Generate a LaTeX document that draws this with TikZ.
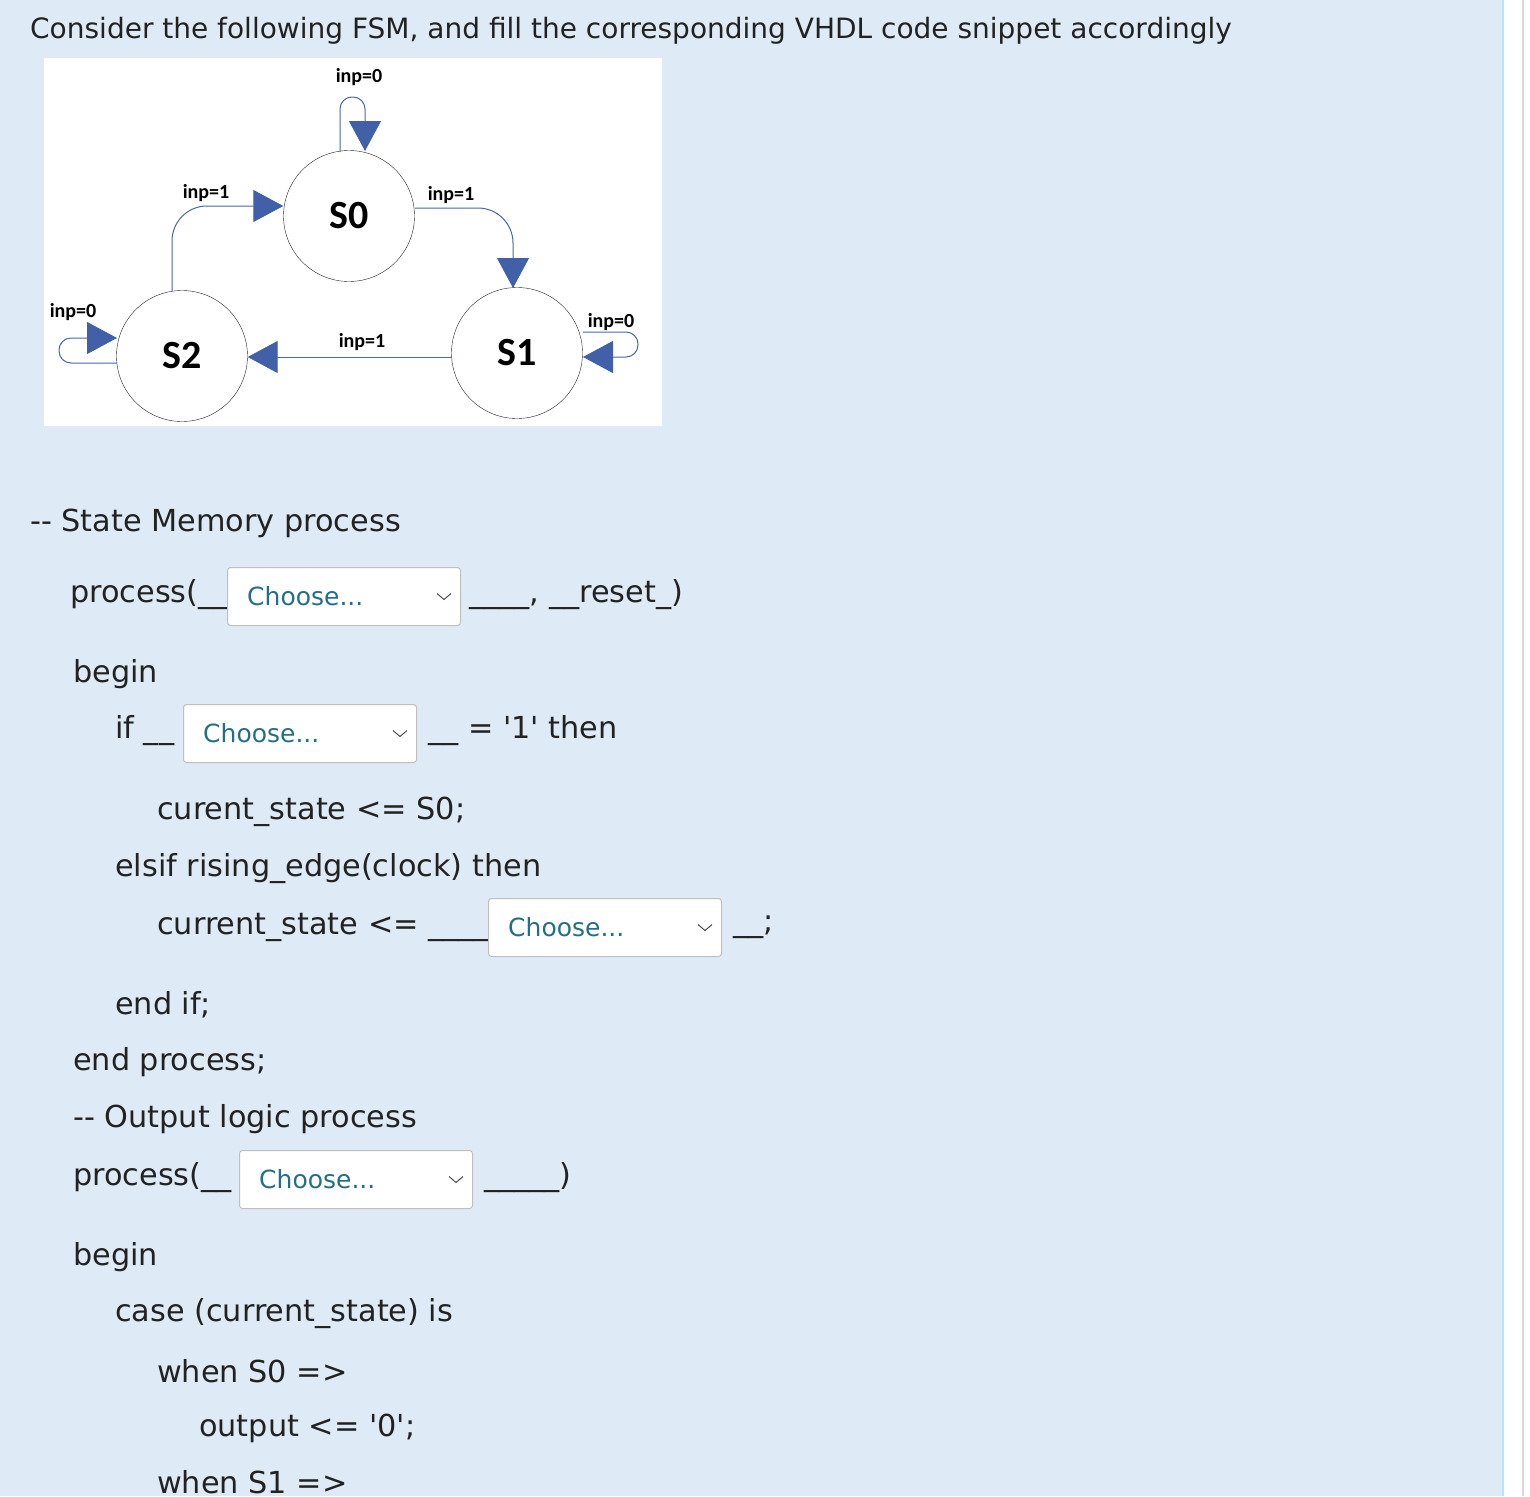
\documentclass[tikz,border=0pt]{standalone}
\usepackage{fontspec}
\setmainfont{DejaVu Sans}
\newfontfamily\diag{Carlito}
\usetikzlibrary{arrows.meta}
\definecolor{bgblue}{HTML}{DEEBF6}
\definecolor{edge}{HTML}{4A66AE}
\definecolor{tip}{HTML}{4160A8}
\definecolor{teal}{HTML}{246E86}
\definecolor{txt}{HTML}{222222}
\newcommand{\q}{\textquotesingle}
\tikzset{
  x=1pt,y=-1pt,
  st/.style={circle,draw=black!85,fill=white,minimum size=131pt,inner sep=0pt,font=\diag\bfseries\fontsize{40}{40}\selectfont},
  lbl/.style={font=\diag\bfseries\fontsize{20}{20}\selectfont,inner sep=0pt},
  tr/.style={draw=edge,line width=1pt,-{Triangle[length=30pt,width=32pt,fill=tip,color=tip]},rounded corners=22pt},
  code/.style={anchor=west,inner sep=0pt,text=txt,font=\fontsize{30.3}{31}\selectfont},
  dd/.style={draw=black!25,fill=white,rounded corners=3pt,line width=1pt,minimum width=233pt,minimum height=58pt,anchor=north west,inner sep=0pt},
  ch/.style={anchor=west,text=teal,font=\fontsize{25}{25}\selectfont,inner sep=0pt}
}
\newcommand{\dropdown}[3]{%
  \node[dd] (#1) at (#2,#3) {};
  \node[ch] at ([xshift=20pt]#1.west) {Choose...};
  \draw[black!70,line width=1pt] ([xshift=-24pt,yshift=3pt]#1.east) -- ([xshift=-17pt,yshift=-3pt]#1.east) -- ([xshift=-10pt,yshift=3pt]#1.east);
}
\begin{document}
\begin{tikzpicture}
\useasboundingbox (0,0) rectangle (1530,1496);
\fill[bgblue] (0,0) rectangle (1502,1496);
\fill[white] (1504,0) rectangle (1530,1496);
\draw[cyan!30!white,line width=2pt] (1503,0) -- (1503,1496);
\draw[black!15,line width=2pt] (1523,0) -- (1523,1496);
\node[anchor=west,inner sep=0pt,text=txt,font=\fontsize{28}{28}\selectfont] (title) at (30,31) {Consider the following FSM, and fill the corresponding VHDL code snippet accordingly};
% diagram
\fill[white] (44,58) rectangle (662,426);
\node[st] (S0) at (349,216) {S0};
\node[st] (S1) at (517,353) {S1};
\node[st] (S2) at (182,356) {S2};
\coordinate (a0) at (340,152);
\coordinate (b0) at (365,151);
\draw[tr,rounded corners=12pt] (a0) -- (340,97) -- (365,97) -- (b0);
\draw[tr,rounded corners=35pt] (172,291) -- (172,206) -- (S0.west|-0,206);
\draw[tr,rounded corners=35pt] (415,208) -- (513,208) -- (513,288);
\draw[tr] (S1.west|-0,357) -- (S2.east|-0,357);
\draw[tr,rounded corners=12pt] (117,363) -- (59,363) -- (59,338) -- (117,338);
\draw[tr,rounded corners=12pt] (583,332) -- (638,332) -- (638,357) -- (583,357);
\node[lbl] at (359,77) {inp=0};
\node[lbl] at (206,193) {inp=1};
\node[lbl] at (451,195) {inp=1};
\node[lbl] at (73,312) {inp=0};
\node[lbl] at (362,342) {inp=1};
\node[lbl] at (611,322) {inp=0};
% code
\begin{scope}
\clip (0,0) rectangle (1502,1496);
\node[code] at (30,523) {-{}- State Memory process};
\node[code] at (70,595) {process(\_\_};
\dropdown{d1}{227}{567}
\node[code] at (469,595) {\_\_\_\_, \_\_reset\_)};
\node[code] at (73,674) {begin};
\node[code] at (115,731) {if \_\_};
\dropdown{d2}{183}{704}
\node[code] at (428,731) {\_\_ = \q1\q{} then};
\node[code] at (157,812) {curent\_state <= S0;};
\node[code] at (115,869) {elsif rising\_edge(clock) then};
\node[code] at (157,927) {current\_state <= \_\_\_\_};
\dropdown{d3}{488}{898}
\node[code] at (733,927) {\_\_;};
\node[code] at (115,1005) {end if;};
\node[code] at (73,1062) {end process;};
\node[code] at (73,1119) {-{}- Output logic process};
\node[code] at (73,1178) {process(\_\_};
\dropdown{d4}{239}{1150}
\node[code] at (484,1178) {\_\_\_\_\_)};
\node[code] at (73,1257) {begin};
\node[code] at (115,1314) {case (current\_state) is};
\node[code] at (157,1371) {when S0 =>};
\node[code] at (199,1428) {output <= \q0\q;};
\node[code] at (157,1482) {when S1 =>};
\end{scope}
\end{tikzpicture}
\end{document}
